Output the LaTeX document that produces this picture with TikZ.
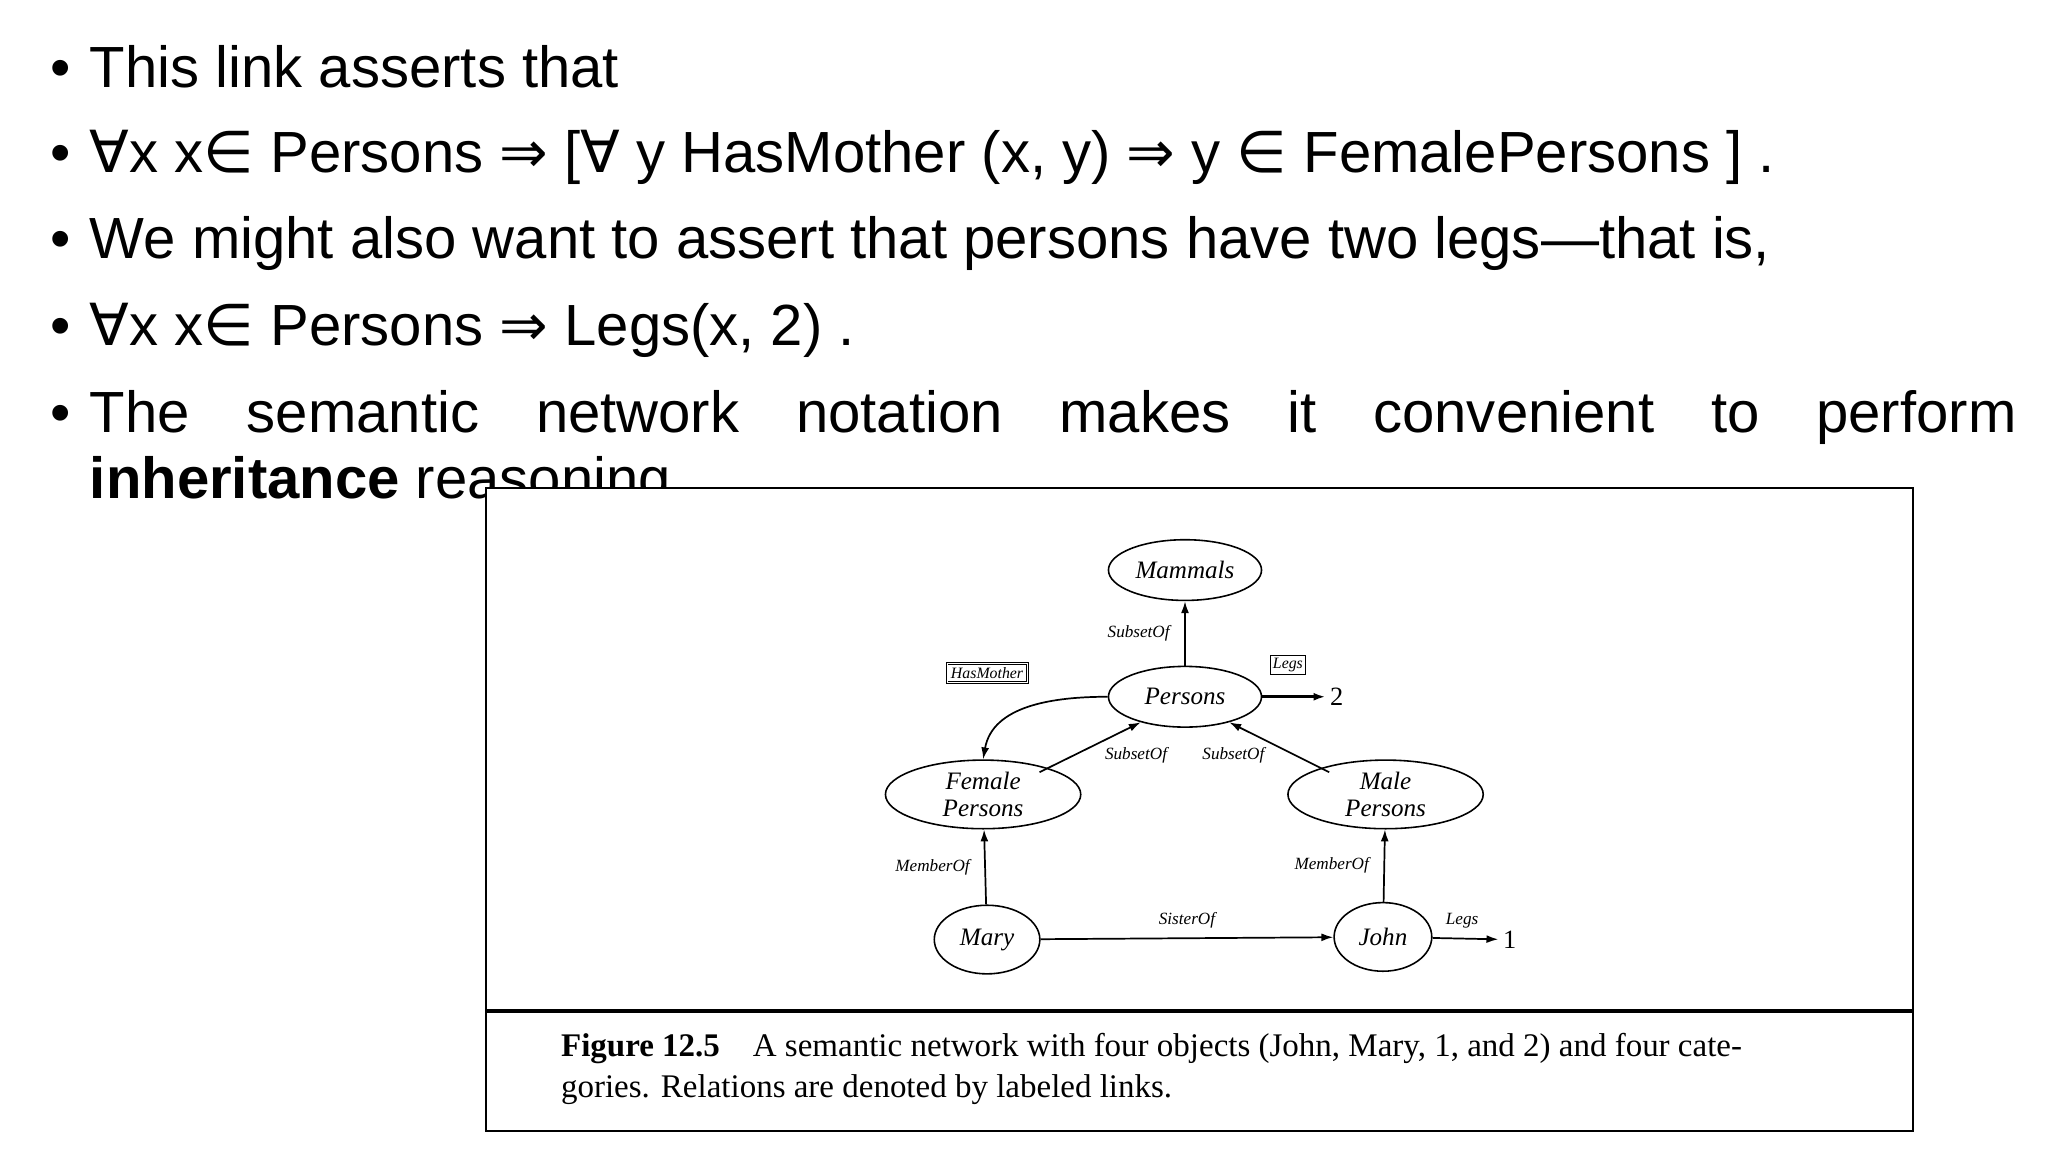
\documentclass[tikz,border=0pt]{standalone}
\usepackage{fontspec}
\setmainfont{Liberation Sans}
\newfontfamily\tms{Liberation Serif}
\newfontfamily\dvs{DejaVu Sans}
\usetikzlibrary{arrows.meta,shapes.geometric}
\newcommand{\fa}{{\dvs ∀}}
\newcommand{\inn}{{\dvs ∈}}
\newcommand{\imp}{{\dvs ⇒}}
\begin{document}
\begin{tikzpicture}[x=1pt,y=-1pt,
  bl/.style={anchor=base west,inner sep=0pt,font=\fontsize{44}{44}\selectfont},
  el/.style={draw,ellipse,line width=1.2pt,inner sep=0pt,font=\tms\itshape\fontsize{19}{21}\selectfont,align=center},
  lab/.style={font=\tms\itshape\fontsize{13}{13}\selectfont,inner sep=1pt},
  ar/.style={-{Latex[length=9pt,width=6pt]},line width=1.3pt}]
\useasboundingbox (0,0) rectangle (1552,873);
\fill[white] (0,0) rectangle (1552,873);
\foreach \y/\t in {66/This link asserts that,
  131/{\fa x x\inn\ Persons \imp\ [\fa\ y HasMother (x, y) \imp\ y \inn\ FemalePersons ] .},
  196/{We might also want to assert that persons have two legs—that is,},
  262/{\fa x x\inn\ Persons \imp\ Legs(x, 2) .}}
  {\node[bl] at (38,\y) {•}; \node[bl] at (68,\y) {\t};}
\node[bl] at (38,328) {•};
\node[bl] (l5) at (68,328) {\makebox[1460pt][s]{The semantic network notation makes it convenient to perform}};
\node[bl] (l6) at (68,378) {\textbf{inheritance} reasoning.};
% figure box
\draw[fill=white,line width=1.5pt] (368,370) rectangle (1450,857);
\draw[line width=3pt] (368,766) -- (1450,766);
\node[anchor=north west,align=left,inner sep=0pt,font=\tms\fontsize{25}{31}\selectfont] (cap) at (425,783)
 {\textbf{Figure 12.5}\quad A semantic network with four objects (John, Mary, 1, and 2) and four cate-\\gories. Relations are denoted by labeled links.};
% nodes
\node[el,minimum width=116,minimum height=46] (mam) at (898,432) {Mammals};
\node[el,minimum width=116,minimum height=46] (per) at (898,528) {Persons};
\node[el,minimum width=148,minimum height=52] (fem) at (745,602) {Female\\Persons};
\node[el,minimum width=148,minimum height=52] (mal) at (1050,602) {Male\\Persons};
\node[el,minimum width=80,minimum height=52] (mar) at (748,712) {Mary};
\node[el,minimum width=74,minimum height=52] (joh) at (1048,710) {John};
\node[draw,double,line width=0.8pt,inner sep=3pt,font=\tms\itshape\fontsize{12}{12}\selectfont] (hm) at (748,510) {HasMother};
\node[draw,line width=1pt,inner sep=2pt,font=\tms\itshape\fontsize{12}{12}\selectfont] (lg) at (976,504) {Legs};
\node[font=\tms\fontsize{20}{20}\selectfont] (two) at (1013,528) {2};
\node[font=\tms\fontsize{20}{20}\selectfont] (one) at (1144,712) {1};
% edges
\draw[ar] (per) -- (mam) node[lab,midway,left=10pt] {SubsetOf};
\draw[ar] (fem.north east) ++(-10,2) coordinate (fs) (fs) -- (per.210) node[lab,pos=0.6,below right=2pt] {SubsetOf};
\draw[ar] (mal.north west) ++(10,2) coordinate (ms) (ms) -- (per.330) node[lab,pos=0.6,below left=2pt] {SubsetOf};
\draw[ar] (mar) -- (fem) node[lab,midway,left=10pt] {MemberOf};
\draw[ar] (joh) -- (mal) node[lab,midway,left=10pt] {MemberOf};
\draw[ar] (mar) -- (joh) node[lab,midway,above=6pt] {SisterOf};
\draw[ar] (joh) -- (one) node[lab,pos=0.45,above=6pt] {Legs};
\draw[ar,line width=2.5pt] (per) -- (two);
\draw[ar] (per.west) to[out=180,in=80] (fem.north);
\end{tikzpicture}
\end{document}
